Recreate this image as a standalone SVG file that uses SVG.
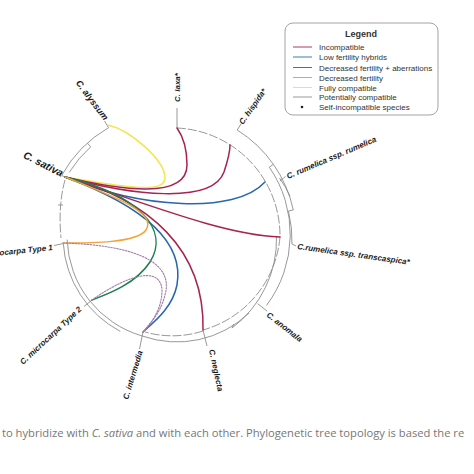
<svg xmlns="http://www.w3.org/2000/svg" width="474" height="474" viewBox="0 0 474 474">
<style>
.bg{fill:#ffffff}
.tree{fill:none;stroke:#8c8c8c;stroke-width:0.9}
.dash{fill:none;stroke:#8c8c8c;stroke-width:0.9;stroke-dasharray:9 2}
.ch{fill:none;stroke-width:1.5;stroke-linecap:round}
.inc{stroke:#a8234f}
.low{stroke:#2866ad}
.abr{stroke:#1b8050}
.dec{stroke:#f2a43a}
.full{stroke:#f2e64a}
.pot{stroke:#a07ca6;stroke-width:1.1;stroke-dasharray:1.6 1.4}
.lab{font-family:"Liberation Sans",Arial,sans-serif;font-size:8px;font-weight:bold;font-style:italic;fill:#1a1a1a}
.leg{font-family:"Liberation Sans",Arial,sans-serif;font-size:8px;fill:#333}
.cap{font-family:"Open Sans","Liberation Sans",sans-serif;font-size:11.2px;fill:#777}
</style>
<rect class="bg" x="0" y="0" width="474" height="474"/>

<g id="tree">
  <path class="dash" d="M177,128 A108,108 0 0 1 280,237"/>
  <path class="dash" d="M280,237 A106,106 0 0 1 203,330"/>
  <path class="dash" d="M203,331 A100,100 0 0 1 145,332"/>
  <path class="dash" d="M65,180 Q58,205 61,238"/>
  <path class="tree" d="M58,205 L63,205"/>
  <path class="tree" d="M237.2,130 A125,125 0 0 1 293.3,210"/>
  <path class="tree" d="M269.3,167.2 A118,118 0 0 1 266.5,305.4"/>
  <path class="tree" d="M269.3,167.2 L273.4,164.3"/>
  <path class="tree" d="M288.4,211 A121,121 0 0 1 292,244"/>
  <path class="tree" d="M288.4,211 L293.3,210"/>
  <path class="tree" d="M279.5,178 A124,124 0 0 1 290,196"/>
  <path class="tree" d="M276.5,236 A111,111 0 0 1 232,328"/>
  <path class="tree" d="M232,328 L234,324"/>
  <path class="tree" d="M249,313 A104,104 0 0 1 142.3,336"/>
  <path class="tree" d="M142.3,336 A104,104 0 0 1 67.1,239.6"/>
  <path class="tree" d="M120.3,331.4 A108,108 0 0 1 63.3,243.5"/>
  <path class="tree" d="M61.7,175.4 A125,125 0 0 1 108.5,127.7"/>
  <path class="tree" d="M69.2,172.4 A120,120 0 0 1 90.7,146.8 L87.4,143.1"/>
  <path class="tree" d="M177,128 L177,108"/>
  <path class="tree" d="M237.2,130 L241,124"/>
  <path class="tree" d="M280,181 L285.5,176.5"/>
  <path class="tree" d="M292,244 L296,246"/>
  <path class="tree" d="M257.7,303.7 L267.1,311.1"/>
  <path class="tree" d="M203,330 L207,346"/>
  <path class="tree" d="M143,332 L139.5,349"/>
  <path class="tree" d="M92.5,299.6 L84,306.5"/>
  <path class="tree" d="M63.3,243.5 L54,245.5"/>
  <path class="tree" d="M108.5,127.7 L104.5,121"/>
  <path class="tree" d="M61.7,175.4 L65,177"/>
</g>

<g id="connectors">
  <path class="ch full" d="M65,177 C120,186 165,195 165,178 C165,160 130,130 108,125"/>
  <path class="ch inc" d="M65,177 C120,190 187,200 187,165 C187,145 182,135 177,128"/>
  <path class="ch inc" d="M65,177 C130,195 212,205 224,172 C228,160 230,152 230,145"/>
  <path class="ch low" d="M65,177 C140,208 235,215 265,182"/>
  <path class="ch inc" d="M65,177 C150,205 225,235 280,237"/>
  <path class="ch inc" d="M65,177 C150,200 205,250 203,330"/>
  <path class="ch low" d="M65,177 C140,205 185,240 177,285 C172,310 150,325 143,332"/>
  <path class="ch abr" d="M65,177 C140,195 170,230 150,262 C135,285 105,295 92,300"/>
  <path class="ch dec" d="M65,177 C110,195 158,212 146,230 C137,243 90,243 63,243"/>
  <path class="ch pot" d="M63,243 C130,245 175,260 165,295 C160,315 148,325 143,332"/>
  <path class="ch pot" d="M92,300 C120,280 160,262 162,290 C162,310 150,325 143,332"/>
</g>

<g id="n-sativa"><text class="lab" style="font-size:10.5px" x="61" y="177" text-anchor="end" transform="rotate(27 61 177)">C. sativa</text></g>
<g id="n-alyssum"><text class="lab" style="font-size:9px" x="104" y="121" text-anchor="end" transform="rotate(53 104 121)">C. alyssum</text></g>
<g id="n-laxa"><text class="lab" x="180" y="102" transform="rotate(-90 180 102)">C. laxa*</text></g>
<g id="n-hispida"><text class="lab" x="243" y="125" transform="rotate(-55 243 125)">C. hispida*</text></g>
<g id="n-rumelica"><text class="lab" x="288" y="179" transform="rotate(-23 288 179)">C. rumelica ssp. rumelica</text></g>
<g id="n-transcaspica"><text class="lab" x="297" y="249" transform="rotate(8 297 249)">C.rumelica ssp. transcaspica*</text></g>
<g id="n-anomala"><text class="lab" x="266" y="316" transform="rotate(38 266 316)">C. anomala</text></g>
<g id="n-neglecta"><text class="lab" x="209" y="350" transform="rotate(78 209 350)">C. neglecta</text></g>
<g id="n-intermedia"><text class="lab" x="128" y="400" transform="rotate(-73 128 400)">C. intermedia</text></g>
<g id="n-micro2"><text class="lab" x="82" y="310" text-anchor="end" transform="rotate(-43 82 310)">C. microcarpa Type 2</text></g>
<g id="n-micro1"><text class="lab" x="53" y="250" text-anchor="end" transform="rotate(-6 53 250)">C. microcarpa Type 1</text></g>

<g id="legend">
  <rect x="285" y="23" width="153" height="92" rx="8" ry="8" fill="#fff" stroke="#999" stroke-width="0.9"/>
  <text class="leg" x="361" y="37" text-anchor="middle" style="font-weight:bold;font-size:9px">Legend</text>
  <line x1="293" y1="47" x2="312" y2="47" stroke="#b03a5b" stroke-width="1"/>
  <text class="leg" x="319" y="50">Incompatible</text>
  <line x1="293" y1="57" x2="312" y2="57" stroke="#3a7abf" stroke-width="1"/>
  <text class="leg" x="319" y="60">Low fertility hybrids</text>
  <line x1="293" y1="67.5" x2="312" y2="67.5" stroke="#2a8a6a" stroke-width="1"/>
  <text class="leg" x="319" y="70.5">Decreased fertility + aberrations</text>
  <line x1="293" y1="77.5" x2="312" y2="77.5" stroke="#f0a040" stroke-width="1"/>
  <text class="leg" x="319" y="80.5">Decreased fertility</text>
  <line x1="293" y1="87.5" x2="312" y2="87.5" stroke="#f3e850" stroke-width="1"/>
  <text class="leg" x="319" y="90.5">Fully compatible</text>
  <line x1="293" y1="97" x2="312" y2="97" stroke="#999" stroke-width="1"/>
  <text class="leg" x="319" y="100">Potentially compatible</text>
  <circle cx="302" cy="107" r="1.3" fill="#222"/>
  <text class="leg" x="319" y="110">Self-incompatible species</text>
</g>

<text class="cap" x="2" y="437">to hybridize with <tspan font-style="italic">C. sativa</tspan> and with each other. Phylogenetic tree topology is based the re</text>
</svg>
